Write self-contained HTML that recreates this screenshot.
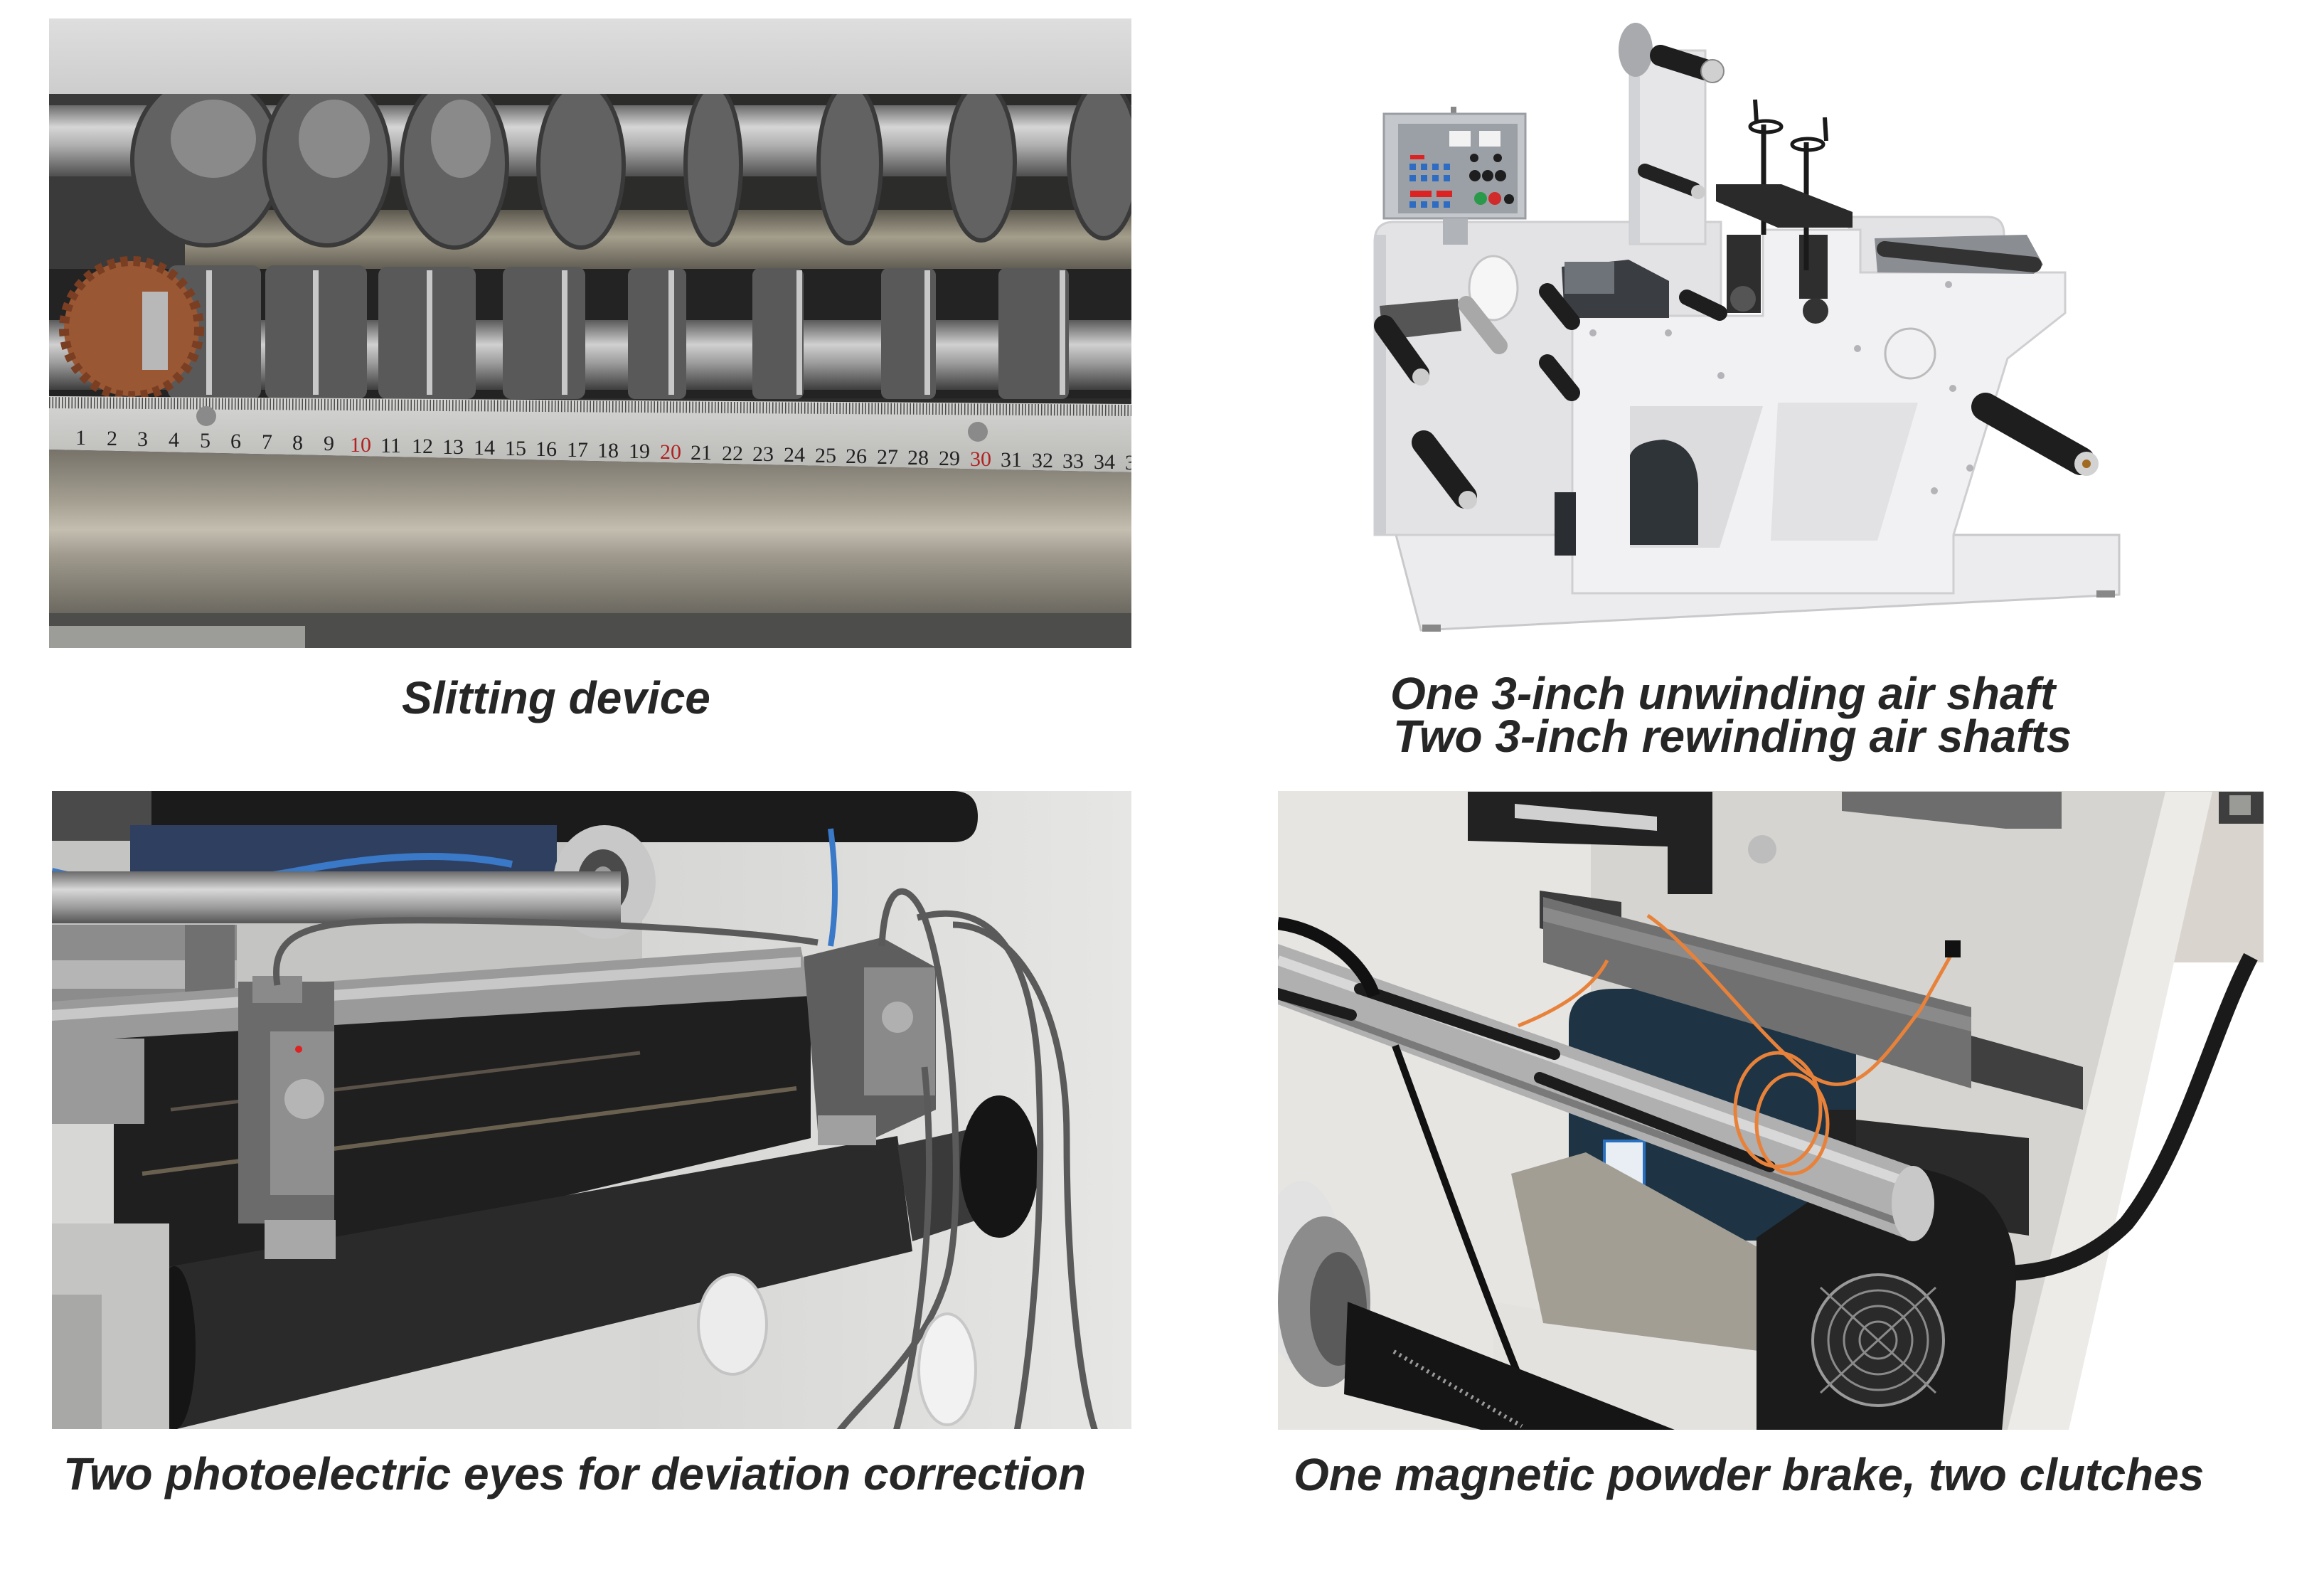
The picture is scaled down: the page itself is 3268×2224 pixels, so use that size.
<!DOCTYPE html>
<html><head><meta charset="utf-8">
<style>
html,body{margin:0;padding:0;background:#fff;}
svg{display:block;}
</style></head><body>
<svg width="3268" height="2224" viewBox="0 0 3268 2224" xmlns="http://www.w3.org/2000/svg">
<defs>
 <clipPath id="c1"><rect x="69" y="26" width="1522" height="885"/></clipPath>
 <clipPath id="c3"><rect x="73" y="1112" width="1518" height="897"/></clipPath>
 <clipPath id="c4"><rect x="1797" y="1112" width="1386" height="898"/></clipPath>
 <linearGradient id="gTop" gradientUnits="userSpaceOnUse" x1="0" y1="26" x2="0" y2="132"><stop offset="0" stop-color="#dedede"/><stop offset="1" stop-color="#cdcdcd"/></linearGradient>
 <linearGradient id="gShaft1" gradientUnits="userSpaceOnUse" x1="0" y1="148" x2="0" y2="250"><stop offset="0" stop-color="#6a6a6a"/><stop offset=".3" stop-color="#d6d6d6"/><stop offset=".55" stop-color="#b0b0b0"/><stop offset="1" stop-color="#4a4a4a"/></linearGradient>
 <linearGradient id="gShaft2" gradientUnits="userSpaceOnUse" x1="0" y1="450" x2="0" y2="548"><stop offset="0" stop-color="#5a5a5a"/><stop offset=".35" stop-color="#d0d0d0"/><stop offset=".6" stop-color="#a0a0a0"/><stop offset="1" stop-color="#3e3e3e"/></linearGradient>
 <linearGradient id="gBrown" gradientUnits="userSpaceOnUse" x1="0" y1="295" x2="0" y2="380"><stop offset="0" stop-color="#5c584e"/><stop offset=".45" stop-color="#a49e8c"/><stop offset="1" stop-color="#5e5a50"/></linearGradient>
 <linearGradient id="gRuler" gradientUnits="userSpaceOnUse" x1="0" y1="557" x2="0" y2="664"><stop offset="0" stop-color="#d6d6d4"/><stop offset="1" stop-color="#b9b9b6"/></linearGradient>
 <linearGradient id="gCyl" gradientUnits="userSpaceOnUse" x1="0" y1="632" x2="0" y2="872"><stop offset="0" stop-color="#77736a"/><stop offset=".3" stop-color="#a39e90"/><stop offset=".47" stop-color="#c3beb0"/><stop offset=".62" stop-color="#9f9a8d"/><stop offset="1" stop-color="#66635b"/></linearGradient>
 <linearGradient id="gRod" gradientUnits="userSpaceOnUse" x1="0" y1="1225" x2="0" y2="1298"><stop offset="0" stop-color="#6a6a6a"/><stop offset=".35" stop-color="#d8d8d8"/><stop offset=".7" stop-color="#9a9a9a"/><stop offset="1" stop-color="#555"/></linearGradient>
 <linearGradient id="gWall" gradientUnits="userSpaceOnUse" x1="900" y1="0" x2="1591" y2="0"><stop offset="0" stop-color="#d6d6d4"/><stop offset="1" stop-color="#e6e6e4"/></linearGradient>
</defs>

<!-- ============ TOP-LEFT PHOTO ============ -->
<g clip-path="url(#c1)">
 <rect x="69" y="26" width="1522" height="885" fill="#2c2c2b"/>
 <rect x="69" y="130" width="200" height="250" fill="#3a3a3a"/>
 <rect x="69" y="148" width="1522" height="100" fill="url(#gShaft1)"/>
 <rect x="260" y="295" width="1331" height="85" fill="url(#gBrown)"/>
 <g fill="#626262" stroke="#3a3a3a" stroke-width="6">
  <ellipse cx="290" cy="225" rx="104" ry="120"/>
  <ellipse cx="460" cy="225" rx="88" ry="120"/>
  <ellipse cx="639" cy="230" rx="74" ry="118"/>
  <ellipse cx="817" cy="232" rx="60" ry="116"/>
  <ellipse cx="1003" cy="232" rx="39" ry="112"/>
  <ellipse cx="1195" cy="230" rx="44" ry="112"/>
  <ellipse cx="1380" cy="228" rx="47" ry="110"/>
  <ellipse cx="1552" cy="225" rx="49" ry="110"/>
 </g>
 <g fill="#8a8a8a">
  <ellipse cx="300" cy="195" rx="60" ry="55"/>
  <ellipse cx="470" cy="195" rx="50" ry="55"/>
  <ellipse cx="648" cy="195" rx="42" ry="55"/>
 </g>
 <rect x="69" y="26" width="1522" height="106" fill="url(#gTop)"/>
 <rect x="69" y="378" width="1522" height="182" fill="#232323"/>
 <rect x="69" y="450" width="1522" height="98" fill="url(#gShaft2)"/>
 <g fill="#595959">
  <rect x="236" y="373" width="131" height="188" rx="12"/>
  <rect x="373" y="373" width="143" height="188" rx="12"/>
  <rect x="532" y="375" width="137" height="186" rx="12"/>
  <rect x="707" y="375" width="116" height="186" rx="12"/>
  <rect x="883" y="377" width="82" height="184" rx="10"/>
  <rect x="1058" y="377" width="72" height="184" rx="10"/>
  <rect x="1239" y="377" width="77" height="184" rx="10"/>
  <rect x="1404" y="377" width="99" height="184" rx="10"/>
 </g>
 <g fill="#c8c8c8">
  <rect x="290" y="380" width="8" height="175"/><rect x="440" y="380" width="8" height="175"/>
  <rect x="600" y="380" width="8" height="175"/><rect x="790" y="380" width="8" height="175"/>
  <rect x="940" y="380" width="8" height="175"/><rect x="1120" y="380" width="8" height="175"/>
  <rect x="1300" y="380" width="8" height="175"/><rect x="1490" y="380" width="8" height="175"/>
 </g>
 <circle cx="185" cy="462" r="95" fill="#9a5734" stroke="#7a3e22" stroke-width="14" stroke-dasharray="10 8"/>
 <rect x="200" y="410" width="36" height="110" fill="#b8b8b8"/>
 <polygon points="69,557 1591,568 1591,664 69,632" fill="url(#gRuler)"/>
 <line x1="69" y1="566" x2="1591" y2="577" stroke="#4a4a4a" stroke-width="16" stroke-dasharray="1.5 3"/>
 <circle cx="290" cy="585" r="14" fill="#8a8a8a"/>
 <circle cx="1375" cy="607" r="14" fill="#8a8a8a"/>
 <g font-family="Liberation Serif, serif" font-size="30" fill="#222">
  <text x="106" y="625">1</text><text x="150" y="626">2</text><text x="193" y="627">3</text><text x="237" y="628">4</text><text x="281" y="629">5</text>
  <text x="324" y="630">6</text><text x="368" y="631">7</text><text x="411" y="632">8</text><text x="455" y="633">9</text><text x="492" y="635" fill="#b02222">10</text>
  <text x="535" y="636">11</text><text x="579" y="637">12</text><text x="622" y="638">13</text><text x="666" y="639">14</text><text x="710" y="640">15</text>
  <text x="753" y="641">16</text><text x="797" y="642">17</text><text x="840" y="643">18</text><text x="884" y="644">19</text><text x="928" y="645" fill="#b02222">20</text>
  <text x="971" y="646">21</text><text x="1015" y="647">22</text><text x="1058" y="648">23</text><text x="1102" y="649">24</text><text x="1146" y="650">25</text>
  <text x="1189" y="651">26</text><text x="1233" y="652">27</text><text x="1276" y="653">28</text><text x="1320" y="654">29</text><text x="1364" y="655" fill="#b02222">30</text>
  <text x="1407" y="656">31</text><text x="1451" y="657">32</text><text x="1494" y="658">33</text><text x="1538" y="659">34</text><text x="1582" y="660">3</text>
 </g>
 <polygon points="69,632 1591,664 1591,872 69,872" fill="url(#gCyl)"/>
 <rect x="69" y="862" width="1522" height="49" fill="#4d4d4b"/>
 <rect x="69" y="880" width="360" height="31" fill="#9c9c98"/>
</g>

<!-- ============ TOP-RIGHT MACHINE ============ -->
<g>
 <polygon points="1963,752 2980,752 2980,836 1998,886" fill="#ececee" stroke="#c9c9cc" stroke-width="3"/>
 <rect x="2000" y="878" width="26" height="10" fill="#888"/>
 <rect x="2948" y="830" width="26" height="10" fill="#888"/>
 <path d="M1933,340 Q1933,312 1960,312 L2420,312 L2420,752 L1933,752 Z" fill="#e3e3e5" stroke="#cfcfd2" stroke-width="3"/>
 <rect x="1933" y="330" width="16" height="422" fill="#cdced1"/>
 <path d="M2600,305 L2795,305 Q2818,305 2818,330 L2818,440 L2600,440 Z" fill="#e3e3e5" stroke="#cfcfd2" stroke-width="3"/>
 <rect x="2292" y="71" width="106" height="272" fill="#e6e6e8" stroke="#cfcfd2" stroke-width="3"/>
 <rect x="2292" y="71" width="14" height="272" fill="#d2d3d6"/>
 <ellipse cx="2300" cy="70" rx="24" ry="38" fill="#a9aaad"/>
 <line x1="2335" y1="78" x2="2398" y2="98" stroke="#1e1e1e" stroke-width="30" stroke-linecap="round"/>
 <circle cx="2408" cy="100" r="16" fill="#d0d0d0" stroke="#888" stroke-width="2"/>
 <line x1="2313" y1="240" x2="2382" y2="266" stroke="#222" stroke-width="20" stroke-linecap="round"/>
 <circle cx="2388" cy="270" r="10" fill="#ccc"/>
 <rect x="2040" y="150" width="8" height="12" fill="#888"/>
 <rect x="1946" y="160" width="199" height="147" fill="#c4c7cb" stroke="#9a9ea3" stroke-width="3"/>
 <rect x="1966" y="174" width="168" height="126" fill="#9aa0a6"/>
 <rect x="2038" y="184" width="30" height="22" fill="#f2f2f2"/>
 <rect x="2080" y="184" width="30" height="22" fill="#f2f2f2"/>
 <g fill="#2e6bc2">
  <rect x="1982" y="230" width="9" height="9"/><rect x="1998" y="230" width="9" height="9"/><rect x="2014" y="230" width="9" height="9"/><rect x="2030" y="230" width="9" height="9"/>
  <rect x="1982" y="246" width="9" height="9"/><rect x="1998" y="246" width="9" height="9"/><rect x="2014" y="246" width="9" height="9"/><rect x="2030" y="246" width="9" height="9"/>
  <rect x="1982" y="283" width="9" height="9"/><rect x="1998" y="283" width="9" height="9"/><rect x="2014" y="283" width="9" height="9"/><rect x="2030" y="283" width="9" height="9"/>
 </g>
 <rect x="1983" y="218" width="20" height="6" fill="#d22"/><rect x="1983" y="268" width="30" height="9" fill="#d22"/><rect x="2020" y="268" width="22" height="9" fill="#d22"/>
 <g fill="#1e1e1e"><circle cx="2074" cy="247" r="8"/><circle cx="2092" cy="247" r="8"/><circle cx="2110" cy="247" r="8"/><circle cx="2073" cy="222" r="6"/><circle cx="2106" cy="222" r="6"/><circle cx="2122" cy="280" r="7"/></g>
 <circle cx="2082" cy="279" r="9" fill="#2a9a4a"/><circle cx="2102" cy="279" r="9" fill="#d02a2a"/>
 <rect x="2029" y="307" width="35" height="37" fill="#b0b4b8"/>
 <polygon points="2211,444 2479,444 2479,323 2616,323 2616,383 2904,383 2904,440 2823,504 2747,752 2747,834 2211,834" fill="#f1f1f3" stroke="#cfcfd2" stroke-width="3"/>
 <polygon points="2292,571 2479,571 2418,770 2292,770" fill="#dcdcdf"/>
 <path d="M2292,640 Q2300,620 2340,618 Q2385,625 2388,680 L2388,766 L2292,766 Z" fill="#2f3439"/>
 <rect x="2186" y="692" width="30" height="89" fill="#2a2d31"/>
 <polygon points="2500,566 2697,566 2640,760 2490,760" fill="#e2e2e5"/>
 <circle cx="2686" cy="497" r="35" fill="none" stroke="#bbb" stroke-width="3"/>
 <ellipse cx="2100" cy="405" rx="34" ry="45" fill="#f6f6f6" stroke="#c4c4c6" stroke-width="3"/>
 <polygon points="2196,375 2290,365 2347,395 2347,447 2200,447" fill="#3a3d42"/>
 <rect x="2200" y="368" width="70" height="45" fill="#6e737a"/>
 <polygon points="1940,430 2050,420 2055,465 1945,478" fill="#555"/>
 <line x1="1947" y1="458" x2="1995" y2="525" stroke="#1e1e1e" stroke-width="30" stroke-linecap="round"/>
 <circle cx="1998" cy="530" r="12" fill="#ccc"/>
 <line x1="2062" y1="428" x2="2108" y2="486" stroke="#a8a8a8" stroke-width="24" stroke-linecap="round"/>
 <line x1="2002" y1="622" x2="2060" y2="698" stroke="#1e1e1e" stroke-width="34" stroke-linecap="round"/>
 <circle cx="2064" cy="703" r="13" fill="#cfcfcf"/>
 <line x1="2176" y1="410" x2="2210" y2="452" stroke="#1e1e1e" stroke-width="24" stroke-linecap="round"/>
 <line x1="2176" y1="510" x2="2210" y2="552" stroke="#1e1e1e" stroke-width="24" stroke-linecap="round"/>
 <line x1="2372" y1="418" x2="2418" y2="440" stroke="#1e1e1e" stroke-width="22" stroke-linecap="round"/>
 <line x1="2792" y1="572" x2="2926" y2="648" stroke="#1e1e1e" stroke-width="40" stroke-linecap="round"/>
 <circle cx="2934" cy="652" r="17" fill="#d2d2d2"/><circle cx="2934" cy="652" r="6" fill="#a06a20"/>
 <polygon points="2636,335 2850,330 2873,372 2860,385 2640,383" fill="#8a8d92"/>
 <line x1="2650" y1="350" x2="2860" y2="372" stroke="#333" stroke-width="22" stroke-linecap="round"/>
 <rect x="2428" y="330" width="48" height="110" fill="#2e2e2e"/>
 <circle cx="2451" cy="420" r="18" fill="#555"/>
 <rect x="2530" y="330" width="40" height="90" fill="#2e2e2e"/>
 <circle cx="2553" cy="437" r="18" fill="#333"/>
 <line x1="2480" y1="175" x2="2480" y2="330" stroke="#1a1a1a" stroke-width="7"/>
 <line x1="2540" y1="200" x2="2540" y2="380" stroke="#1a1a1a" stroke-width="7"/>
 <ellipse cx="2483" cy="178" rx="22" ry="8" fill="none" stroke="#1a1a1a" stroke-width="5"/>
 <ellipse cx="2542" cy="203" rx="22" ry="8" fill="none" stroke="#1a1a1a" stroke-width="5"/>
 <line x1="2468" y1="140" x2="2470" y2="172" stroke="#1a1a1a" stroke-width="6"/>
 <line x1="2566" y1="165" x2="2568" y2="198" stroke="#1a1a1a" stroke-width="6"/>
 <polygon points="2413,259 2505,259 2605,298 2605,320 2500,320 2413,283" fill="#2a2a2a"/>
 <g fill="#b4b4b8"><circle cx="2240" cy="468" r="5"/><circle cx="2346" cy="468" r="5"/><circle cx="2420" cy="528" r="5"/><circle cx="2612" cy="490" r="5"/><circle cx="2746" cy="546" r="5"/><circle cx="2740" cy="400" r="5"/><circle cx="2770" cy="658" r="5"/><circle cx="2720" cy="690" r="5"/></g>
</g>

<!-- ============ BOTTOM-LEFT PHOTO ============ -->
<g clip-path="url(#c3)">
 <rect x="73" y="1112" width="1518" height="897" fill="#d7d7d5"/>
 <rect x="900" y="1112" width="691" height="897" fill="url(#gWall)"/>
 <rect x="73" y="1112" width="830" height="300" fill="#c4c4c2"/>
 <path d="M200,1112 H1340 Q1375,1112 1375,1148 Q1375,1184 1340,1184 H200 Z" fill="#1b1b1b"/>
 <rect x="73" y="1112" width="140" height="70" fill="#4a4a4a"/>
 <rect x="183" y="1160" width="600" height="85" fill="#2f3f5f"/>
 <path d="M73,1225 Q220,1262 430,1222 Q600,1190 720,1215" fill="none" stroke="#3a78c8" stroke-width="10"/>
 <ellipse cx="850" cy="1240" rx="72" ry="80" fill="#c8c8c8"/>
 <ellipse cx="848" cy="1240" rx="36" ry="46" fill="#4a4a4a"/>
 <ellipse cx="848" cy="1240" rx="16" ry="22" fill="#9a9a9a"/>
 <rect x="73" y="1225" width="800" height="73" fill="url(#gRod)"/>
 <path d="M1168,1165 Q1180,1260 1168,1330" fill="none" stroke="#3a78c8" stroke-width="8"/>
 <rect x="73" y="1300" width="260" height="110" fill="#8c8c8c"/>
 <rect x="73" y="1350" width="260" height="40" fill="#b5b5b5"/>
 <rect x="260" y="1300" width="70" height="320" fill="#707070"/>
 <polygon points="73,1408 1126,1331 1140,1400 73,1470" fill="#9a9a9a"/>
 <polygon points="73,1420 1126,1345 1126,1360 73,1435" fill="#c8c8c8"/>
 <polygon points="160,1460 1140,1400 1140,1600 160,1830" fill="#1f1f1f"/>
 <line x1="200" y1="1650" x2="1120" y2="1530" stroke="#6a6050" stroke-width="6"/>
 <line x1="240" y1="1560" x2="900" y2="1480" stroke="#5a5248" stroke-width="5"/>
 <rect x="73" y="1460" width="130" height="120" fill="#9a9a9a"/>
 <polygon points="236,1781 1262,1597 1283,1759 236,2012" fill="#2a2a2a"/>
 <ellipse cx="245" cy="1895" rx="30" ry="115" fill="#151515"/>
 <polygon points="1262,1610 1420,1575 1420,1700 1283,1745" fill="#3a3a3a"/>
 <ellipse cx="1405" cy="1640" rx="55" ry="100" fill="#151515"/>
 <rect x="335" y="1380" width="135" height="340" fill="#6b6b6b"/>
 <rect x="380" y="1450" width="90" height="230" fill="#8f8f8f"/>
 <circle cx="428" cy="1545" r="28" fill="#b5b5b5"/>
 <circle cx="420" cy="1475" r="5" fill="#d22"/>
 <rect x="372" y="1715" width="100" height="55" fill="#a8a8a8"/>
 <rect x="355" y="1372" width="70" height="38" fill="#8a8a8a"/>
 <polygon points="1130,1345 1240,1318 1316,1360 1316,1560 1230,1600 1150,1590" fill="#5e5e5e"/>
 <rect x="1215" y="1360" width="100" height="180" fill="#8a8a8a"/>
 <circle cx="1262" cy="1430" r="22" fill="#b0b0b0"/>
 <rect x="1150" y="1568" width="82" height="42" fill="#a0a0a0"/>
 <g fill="none" stroke="#5a5a5a" stroke-width="9">
  <path d="M390,1385 C380,1320 420,1300 520,1295 S1000,1300 1150,1325"/>
  <path d="M1240,1330 C1245,1230 1280,1240 1300,1290 C1340,1400 1360,1700 1330,1800 C1300,1900 1220,1960 1180,2012"/>
  <path d="M1290,1290 C1400,1260 1450,1350 1460,1500 C1470,1700 1450,1900 1430,2012"/>
  <path d="M1340,1300 C1420,1300 1500,1400 1500,1600 C1500,1800 1520,1950 1540,2012"/>
  <path d="M1300,1500 C1320,1700 1290,1900 1260,2012"/>
 </g>
 <rect x="73" y="1720" width="165" height="290" fill="#c4c4c2"/>
 <rect x="73" y="1820" width="70" height="190" fill="#a8a8a6"/>
 <ellipse cx="1030" cy="1862" rx="48" ry="70" fill="#ececec" stroke="#c4c4c4" stroke-width="4"/>
 <ellipse cx="1332" cy="1925" rx="40" ry="78" fill="#f2f2f2" stroke="#c8c8c8" stroke-width="4"/>
</g>

<!-- ============ BOTTOM-RIGHT PHOTO ============ -->
<g clip-path="url(#c4)">
 <rect x="1797" y="1112" width="1386" height="898" fill="#d6d4d0"/>
 <rect x="1797" y="1112" width="440" height="898" fill="#e6e5e2"/>
 <polygon points="2100,1830 2500,1900 2800,2010 2100,2010" fill="#e4e2de"/>
 <polygon points="3045,1113 3111,1113 2909,2010 2823,2010" fill="#ecebe8"/>
 <polygon points="3111,1113 3183,1113 3183,2010 2909,2010" fill="#ffffff"/>
 <polygon points="3111,1113 3183,1113 3183,1353 3057,1353" fill="#d9d5ce"/>
 <rect x="3120" y="1113" width="63" height="45" fill="#3e3e3e"/>
 <rect x="3135" y="1118" width="30" height="28" fill="#9a9a96"/>
 <path d="M3165,1345 C3110,1450 3070,1620 2990,1720 C2940,1770 2880,1790 2815,1790" fill="none" stroke="#1a1a1a" stroke-width="22"/>
 <polygon points="2064,1113 2408,1113 2408,1257 2345,1257 2345,1190 2064,1182" fill="#222"/>
 <polygon points="2130,1130 2330,1148 2330,1168 2130,1150" fill="#d0d0d0"/>
 <circle cx="2478" cy="1194" r="20" fill="#bdbdbd"/>
 <polygon points="2590,1113 2899,1113 2899,1165 2820,1165 2590,1140" fill="#6d6d6d"/>
 <polygon points="2165,1252 2280,1268 2280,1330 2165,1305" fill="#3c3c3c"/>
 <path d="M2206,1440 Q2206,1390 2270,1390 L2560,1390 Q2610,1390 2610,1450 L2610,1700 Q2610,1744 2560,1744 L2260,1744 Q2206,1744 2206,1690 Z" fill="#1e3444"/>
 <rect x="2256" y="1604" width="56" height="81" fill="#e8eef4" stroke="#2a70c0" stroke-width="4"/>
 <rect x="2570" y="1560" width="40" height="150" fill="#222"/>
 <polygon points="2170,1261 2772,1416 2772,1530 2170,1353" fill="#707070"/>
 <polygon points="2170,1275 2772,1430 2772,1450 2170,1295" fill="#8a8a8a"/>
 <polygon points="2772,1456 2929,1500 2929,1560 2772,1520" fill="#404040"/>
 <polygon points="2125,1650 2230,1620 2520,1780 2480,1900 2170,1860" fill="#a39e94"/>
 <polygon points="2610,1574 2853,1600 2853,1737 2610,1700" fill="#2a2a2a"/>
 <path d="M2470,1740 L2600,1650 Q2700,1620 2790,1680 Q2850,1740 2830,1850 L2815,2012 L2470,2012 Z" fill="#1b1b1b"/>
 <circle cx="2641" cy="1884" r="92" fill="#2a2a2a" stroke="#9a9a9a" stroke-width="4"/>
 <g fill="none" stroke="#8a8a8a" stroke-width="3">
  <circle cx="2641" cy="1884" r="70"/><circle cx="2641" cy="1884" r="48"/><circle cx="2641" cy="1884" r="26"/>
  <line x1="2560" y1="1810" x2="2722" y2="1958"/><line x1="2722" y1="1810" x2="2560" y2="1958"/>
 </g>
 <polygon points="1797,1327 2690,1640 2690,1745 1797,1412" fill="#b0b0b0"/>
 <line x1="1797" y1="1350" x2="2690" y2="1665" stroke="#d8d8d8" stroke-width="14"/>
 <line x1="1797" y1="1400" x2="2690" y2="1725" stroke="#7a7a7a" stroke-width="10"/>
 <ellipse cx="2690" cy="1692" rx="30" ry="53" fill="#c8c8c8"/>
 <g stroke="#1c1c1c" stroke-width="16" stroke-linecap="round">
  <line x1="1912" y1="1390" x2="2186" y2="1482"/>
  <line x1="2165" y1="1515" x2="2489" y2="1640"/>
  <line x1="1797" y1="1397" x2="1900" y2="1427"/>
 </g>
 <path d="M1962,1470 C2010,1600 2080,1800 2160,1995" fill="none" stroke="#111" stroke-width="10"/>
 <path d="M1797,1298 C1870,1308 1920,1360 1932,1400" fill="none" stroke="#111" stroke-width="18"/>
 <ellipse cx="1830" cy="1790" rx="60" ry="130" fill="#e2e2e2"/>
 <ellipse cx="1862" cy="1830" rx="65" ry="120" fill="#8c8c8c"/>
 <ellipse cx="1882" cy="1840" rx="40" ry="80" fill="#5a5a5a"/>
 <polygon points="1895,1830 2360,2012 2090,2012 1890,1960" fill="#151515"/>
 <line x1="1960" y1="1900" x2="2140" y2="2005" stroke="#9a9a9a" stroke-width="6" stroke-dasharray="3 6"/>
 <g fill="none" stroke="#e8823a" stroke-width="5">
  <path d="M2135,1442 C2190,1420 2240,1390 2260,1350"/>
  <path d="M2317,1287 C2380,1330 2460,1440 2530,1500 C2600,1560 2640,1500 2700,1420 L2745,1340"/>
  <ellipse cx="2500" cy="1560" rx="60" ry="80"/>
  <ellipse cx="2520" cy="1580" rx="50" ry="70"/>
 </g>
 <rect x="2735" y="1322" width="22" height="24" fill="#111"/>
</g>

<!-- ============ CAPTIONS ============ -->
<g font-family="Liberation Sans, Arial, sans-serif" font-weight="bold" font-style="italic" font-size="64" fill="#262626">
 <text x="565" y="1003">Slitting device</text>
 <text x="1955" y="997">One 3-inch unwinding air shaft</text>
 <text x="1959" y="1057">Two 3-inch rewinding air shafts</text>
 <text x="89" y="2094">Two photoelectric eyes for deviation correction</text>
 <text x="1819" y="2095">One magnetic powder brake, two clutches</text>
</g>
</svg>
</body></html>
